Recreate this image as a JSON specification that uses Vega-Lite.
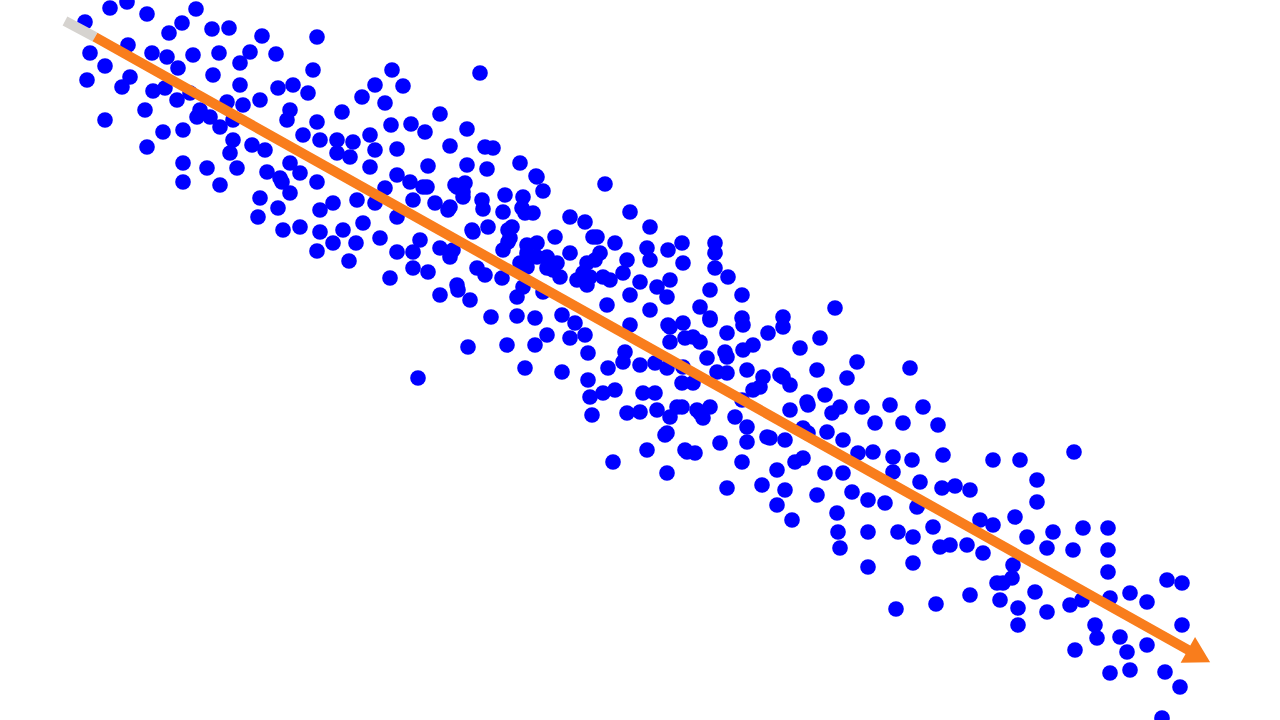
{
  "$schema": "https://vega.github.io/schema/vega-lite/v6.json",
  "width": 1280,
  "height": 720,
  "autosize": {"type": "none"},
  "padding": 0,
  "background": "white",
  "config": {"view": {"stroke": null}},
  "datasets": {
    "dots": [
      {"x":110,"y":8},{"x":127,"y":2},{"x":85,"y":22},{"x":147,"y":14},{"x":196,"y":9},{"x":182,"y":23},{"x":212,"y":29},{"x":229,"y":28},{"x":169,"y":33},{"x":262,"y":36},{"x":317,"y":37},{"x":128,"y":45},{"x":90,"y":53},{"x":105,"y":66},{"x":152,"y":53},{"x":167,"y":57},{"x":193,"y":55},{"x":219,"y":53},{"x":250,"y":52},{"x":276,"y":54},{"x":240,"y":63},{"x":178,"y":68},{"x":213,"y":75},{"x":313,"y":70},{"x":87,"y":80},{"x":122,"y":87},{"x":130,"y":77},{"x":153,"y":91},{"x":165,"y":88},{"x":177,"y":100},{"x":190,"y":93},{"x":240,"y":85},{"x":278,"y":88},{"x":293,"y":85},{"x":308,"y":93},{"x":260,"y":100},{"x":227,"y":102},{"x":243,"y":105},{"x":375,"y":85},{"x":362,"y":97},{"x":105,"y":120},{"x":145,"y":110},{"x":200,"y":110},{"x":210,"y":117},{"x":220,"y":127},{"x":233,"y":120},{"x":290,"y":110},{"x":287,"y":120},{"x":317,"y":122},{"x":342,"y":112},{"x":163,"y":132},{"x":183,"y":130},{"x":197,"y":117},{"x":233,"y":140},{"x":252,"y":145},{"x":265,"y":150},{"x":303,"y":135},{"x":320,"y":140},{"x":337,"y":140},{"x":353,"y":142},{"x":370,"y":135},{"x":147,"y":147},{"x":230,"y":153},{"x":183,"y":163},{"x":207,"y":168},{"x":237,"y":168},{"x":267,"y":172},{"x":290,"y":163},{"x":337,"y":153},{"x":350,"y":157},{"x":370,"y":167},{"x":375,"y":150},{"x":183,"y":182},{"x":220,"y":185},{"x":280,"y":178},{"x":300,"y":173},{"x":317,"y":182},{"x":290,"y":193},{"x":260,"y":198},{"x":357,"y":200},{"x":258,"y":217},{"x":278,"y":208},{"x":320,"y":210},{"x":333,"y":203},{"x":283,"y":230},{"x":300,"y":227},{"x":320,"y":232},{"x":343,"y":230},{"x":363,"y":223},
      {"x":282,"y":182},{"x":333,"y":243},{"x":356,"y":243},{"x":317,"y":251},{"x":349,"y":261},
      {"x":392,"y":70},{"x":480,"y":73},{"x":403,"y":86},{"x":385,"y":103},{"x":440,"y":114},{"x":391,"y":125},{"x":411,"y":124},{"x":425,"y":132},{"x":467,"y":129},{"x":450,"y":146},{"x":485,"y":147},{"x":493,"y":148},{"x":397,"y":149},{"x":428,"y":166},{"x":467,"y":165},{"x":487,"y":169},{"x":520,"y":163},{"x":536,"y":176},{"x":543,"y":191},{"x":605,"y":184},{"x":397,"y":175},{"x":410,"y":182},{"x":423,"y":187},{"x":455,"y":185},{"x":465,"y":183},{"x":385,"y":188},{"x":375,"y":203},{"x":413,"y":200},{"x":435,"y":203},{"x":450,"y":207},{"x":463,"y":192},{"x":482,"y":200},{"x":483,"y":209},{"x":505,"y":195},{"x":503,"y":212},{"x":523,"y":197},{"x":525,"y":213},{"x":533,"y":213},{"x":570,"y":217},{"x":585,"y":222},{"x":630,"y":212},{"x":650,"y":227},{"x":397,"y":217},{"x":380,"y":238},{"x":420,"y":240},{"x":440,"y":248},{"x":453,"y":250},{"x":473,"y":232},{"x":488,"y":227},{"x":512,"y":227},{"x":510,"y":238},{"x":527,"y":245},{"x":537,"y":243},{"x":555,"y":237},{"x":570,"y":253},{"x":597,"y":237},{"x":615,"y":243},{"x":682,"y":243},{"x":668,"y":250},{"x":397,"y":252},{"x":413,"y":252},{"x":450,"y":257},{"x":503,"y":250},{"x":527,"y":253},{"x":547,"y":257},{"x":557,"y":263},{"x":600,"y":253},{"x":627,"y":260},{"x":650,"y":260},{"x":647,"y":248},{"x":683,"y":263},{"x":390,"y":278},{"x":413,"y":268},{"x":428,"y":272},{"x":477,"y":268},{"x":485,"y":275},{"x":502,"y":278},{"x":527,"y":267},{"x":547,"y":268},{"x":560,"y":277},{"x":583,"y":273},{"x":595,"y":260},{"x":603,"y":277},{"x":610,"y":280},{"x":640,"y":282},{"x":657,"y":287},{"x":670,"y":280},{"x":440,"y":295},{"x":458,"y":290},{"x":630,"y":295},{"x":667,"y":297},
      {"x":427,"y":187},{"x":457,"y":187},{"x":463,"y":197},{"x":448,"y":210},{"x":522,"y":208},{"x":537,"y":177},{"x":472,"y":230},{"x":508,"y":230},{"x":508,"y":242},{"x":593,"y":237},{"x":520,"y":263},{"x":537,"y":257},{"x":553,"y":270},{"x":587,"y":263},{"x":590,"y":277},{"x":577,"y":280},{"x":457,"y":285},
      {"x":470,"y":300},{"x":517,"y":297},{"x":523,"y":287},{"x":543,"y":292},{"x":587,"y":285},{"x":623,"y":273},{"x":491,"y":317},{"x":517,"y":316},{"x":535,"y":318},{"x":562,"y":315},{"x":547,"y":335},{"x":535,"y":345},{"x":507,"y":345},{"x":468,"y":347},{"x":575,"y":323},{"x":585,"y":335},{"x":570,"y":338},{"x":588,"y":353},{"x":607,"y":305},{"x":650,"y":310},{"x":630,"y":325},{"x":668,"y":325},{"x":683,"y":323},{"x":685,"y":338},{"x":670,"y":342},{"x":625,"y":352},{"x":608,"y":368},{"x":623,"y":362},{"x":640,"y":365},{"x":655,"y":363},{"x":667,"y":368},{"x":683,"y":367},{"x":682,"y":383},{"x":418,"y":378},{"x":525,"y":368},{"x":562,"y":372},{"x":588,"y":380},{"x":590,"y":397},{"x":603,"y":393},{"x":615,"y":390},{"x":643,"y":393},{"x":655,"y":393},{"x":627,"y":413},{"x":640,"y":412},{"x":657,"y":410},{"x":670,"y":417},{"x":677,"y":407},{"x":592,"y":415},{"x":665,"y":435},{"x":647,"y":450},{"x":685,"y":450},{"x":613,"y":462},{"x":667,"y":473},
      {"x":715,"y":243},{"x":715,"y":253},{"x":715,"y":268},{"x":728,"y":277},{"x":710,"y":290},{"x":742,"y":295},{"x":835,"y":308},{"x":700,"y":307},{"x":710,"y":318},{"x":742,"y":318},{"x":783,"y":317},{"x":783,"y":327},{"x":727,"y":333},{"x":768,"y":333},{"x":820,"y":338},{"x":743,"y":350},{"x":753,"y":345},{"x":800,"y":348},{"x":700,"y":342},{"x":707,"y":358},{"x":727,"y":357},{"x":857,"y":362},{"x":910,"y":368},{"x":817,"y":370},{"x":847,"y":378},{"x":747,"y":370},{"x":763,"y":377},{"x":783,"y":377},{"x":790,"y":385},{"x":727,"y":373},{"x":693,"y":383},{"x":753,"y":390},{"x":825,"y":395},{"x":682,"y":407},
      {"x":670,"y":327},{"x":693,"y":337},{"x":725,"y":352},{"x":717,"y":372},{"x":780,"y":375},{"x":760,"y":387},{"x":742,"y":400},{"x":807,"y":402},{"x":697,"y":410},{"x":703,"y":418},{"x":667,"y":433},{"x":767,"y":437},{"x":803,"y":428},{"x":710,"y":320},{"x":743,"y":325},
      {"x":700,"y":413},{"x":710,"y":407},{"x":735,"y":417},{"x":747,"y":427},{"x":790,"y":410},{"x":808,"y":405},{"x":832,"y":413},{"x":840,"y":407},{"x":862,"y":407},{"x":890,"y":405},{"x":923,"y":407},{"x":875,"y":423},{"x":903,"y":423},{"x":938,"y":425},{"x":687,"y":452},{"x":695,"y":453},{"x":720,"y":443},{"x":747,"y":442},{"x":770,"y":438},{"x":785,"y":440},{"x":808,"y":433},{"x":827,"y":432},{"x":843,"y":440},{"x":858,"y":453},{"x":873,"y":452},{"x":893,"y":457},{"x":912,"y":460},{"x":943,"y":455},{"x":993,"y":460},{"x":742,"y":462},{"x":777,"y":470},{"x":795,"y":462},{"x":803,"y":458},{"x":825,"y":473},{"x":843,"y":473},{"x":893,"y":472},{"x":920,"y":482},{"x":942,"y":488},{"x":955,"y":486},{"x":970,"y":490},{"x":727,"y":488},{"x":762,"y":485},{"x":785,"y":490},{"x":817,"y":495},{"x":852,"y":492},{"x":868,"y":500},{"x":885,"y":503},{"x":917,"y":507},{"x":777,"y":505},{"x":792,"y":520},{"x":837,"y":513},{"x":838,"y":532},{"x":840,"y":548},{"x":868,"y":532},{"x":898,"y":532},{"x":913,"y":537},{"x":933,"y":527},{"x":940,"y":547},{"x":950,"y":545},{"x":967,"y":545},{"x":983,"y":553},{"x":980,"y":520},{"x":993,"y":525},{"x":868,"y":567},{"x":913,"y":563},{"x":997,"y":583},{"x":970,"y":595},{"x":936,"y":604},{"x":896,"y":609},
      {"x":1020,"y":460},{"x":1074,"y":452},{"x":1037,"y":480},{"x":1037,"y":502},{"x":1015,"y":517},{"x":1027,"y":537},{"x":1053,"y":532},{"x":1083,"y":528},{"x":1108,"y":528},{"x":1047,"y":548},{"x":1073,"y":550},{"x":1108,"y":550},{"x":1013,"y":565},{"x":1108,"y":572},{"x":1003,"y":583},{"x":1012,"y":578},{"x":1000,"y":600},{"x":1035,"y":592},{"x":1018,"y":608},{"x":1047,"y":612},{"x":1070,"y":605},{"x":1082,"y":600},{"x":1110,"y":598},{"x":1130,"y":593},{"x":1147,"y":602},{"x":1167,"y":580},{"x":1182,"y":583},{"x":1018,"y":625},{"x":1095,"y":625},{"x":1097,"y":638},{"x":1120,"y":637},{"x":1127,"y":652},{"x":1147,"y":645},{"x":1182,"y":625},{"x":1075,"y":650},{"x":1110,"y":673},{"x":1130,"y":670},{"x":1165,"y":672},{"x":1180,"y":687},{"x":1162,"y":718}
    ],
    "arrow": [
      {"part":"tail","x":65,"y":21,"x2":95,"y2":37},
      {"part":"shaft","x":95,"y":37,"x2":1199,"y2":656}
    ],
    "head": [
      {"x":1199,"y":656}
    ]
  },
  "layer": [
    {
      "data": {"name": "dots"},
      "mark": {"type": "point", "filled": true, "opacity": 1, "size": 245, "color": "#0000ff", "strokeWidth": 0},
      "encoding": {
        "x": {"field": "x", "type": "quantitative", "scale": {"domain": [0, 1280], "nice": false, "zero": false}, "axis": null},
        "y": {"field": "y", "type": "quantitative", "scale": {"domain": [0, 720], "nice": false, "zero": false, "reverse": true}, "axis": null}
      }
    },
    {
      "data": {"name": "arrow"},
      "mark": {"type": "rule", "strokeWidth": 10, "strokeCap": "butt"},
      "encoding": {
        "x": {"field": "x", "type": "quantitative"},
        "y": {"field": "y", "type": "quantitative"},
        "x2": {"field": "x2"},
        "y2": {"field": "y2"},
        "color": {"field": "part", "type": "nominal", "scale": {"domain": ["tail", "shaft"], "range": ["#d6d3cf", "#f97d1c"]}, "legend": null}
      }
    },
    {
      "data": {"name": "head"},
      "mark": {"type": "point", "shape": "triangle-right", "filled": true, "opacity": 1, "size": 870, "color": "#f97d1c", "strokeWidth": 0, "angle": 29.2},
      "encoding": {
        "x": {"field": "x", "type": "quantitative"},
        "y": {"field": "y", "type": "quantitative"}
      }
    }
  ]
}
